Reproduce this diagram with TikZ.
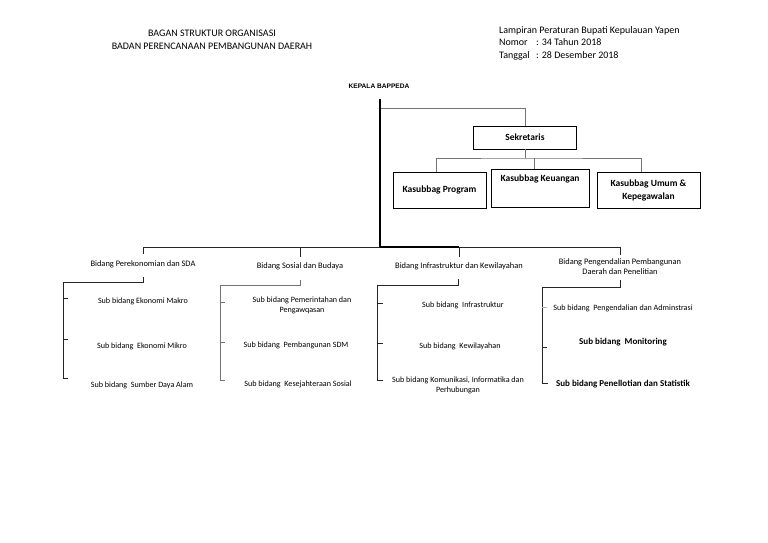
\documentclass[tikz,border=0pt]{standalone}
\usepackage{fontspec}
\setmainfont{Carlito}
\newfontfamily\arialfont{Liberation Sans}
\begin{document}
\begin{tikzpicture}[x=1pt,y=-1pt,
  hdr/.style={font=\fontsize{10}{12}\selectfont, inner sep=0pt},
  kep/.style={font=\arialfont\bfseries\fontsize{6.6}{8}\selectfont, inner sep=0pt},
  bid/.style={font=\fontsize{8.4}{9.5}\selectfont, inner sep=0pt, align=center},
  sub/.style={font=\fontsize{8.1}{10}\selectfont, inner sep=0pt, align=center},
  subbig/.style={font=\bfseries\fontsize{9}{11}\selectfont, inner sep=0pt},
  orgbox/.style={draw, line width=0.8pt, font=\bfseries\fontsize{9.5}{13}\selectfont, align=center, inner sep=0pt},
  ln/.style={line width=0.7pt, black!85},
  grayln/.style={line width=0.7pt, black!55},
  thickln/.style={line width=2pt, black}]
\useasboundingbox[fill=white] (0,0) rectangle (768,543);

% header
\node[hdr, anchor=base] (h1) at (212,36.5) {BAGAN STRUKTUR ORGANISASI};
\node[hdr, anchor=base] (h2) at (212,49.5) {BADAN PERENCANAAN PEMBANGUNAN DAERAH};
\node[hdr, anchor=base west] (r1) at (499,33.5) {Lampiran Peraturan Bupati Kepulauan Yapen};
\node[hdr, anchor=base west] (r2) at (499,46) {Nomor};
\node[hdr, anchor=base west] (r2v) at (536,46) {: 34 Tahun 2018};
\node[hdr, anchor=base west] (r3) at (499,58.5) {Tanggal};
\node[hdr, anchor=base west] (r3v) at (536,58.5) {: 28 Desember 2018};

% head
\node[kep] (kepala) at (379,86) {KEPALA BAPPEDA};
\coordinate (top) at (380,99);
\coordinate (hub) at (380,247);
\coordinate (j1) at (380,108);

% secretariat
\node[orgbox, minimum width=103, minimum height=23] (sek) at (525,137.5) {Sekretaris};
\node[orgbox, minimum width=93, minimum height=36] (prog) at (439.5,190) {Kasubbag Program};
\node[orgbox, minimum width=98, minimum height=38,
  label={[font=\bfseries\fontsize{9.5}{13}\selectfont, anchor=north, inner sep=0pt, yshift=-6pt]north:Kasubbag Keuangan}] (keu) at (540,188) {};
\node[orgbox, minimum width=103, minimum height=36] (umum) at (648.5,190) {Kasubbag Umum \&\\Kepegawalan};
\coordinate (j2) at (525,158);

\draw[grayln] (j1) -| (sek.north);
\draw[grayln] (sek.south) -- (j2);
\draw[grayln] ([xshift=-3pt]prog.north) |- (j2) -| ([xshift=-7pt]umum.north);
\draw[grayln] ([xshift=-6pt]keu.north) -- ([xshift=-6pt]keu.north |- j2);

% bidang labels
\node[bid, inner ysep=6pt] (b1) at (143,264) {Bidang Perekonomian dan SDA};
\node[bid, inner ysep=5pt] (b2) at (300,266) {Bidang Sosial dan Budaya};
\node[bid, inner ysep=5pt] (b3) at (459,266) {Bidang Infrastruktur dan Kewilayahan};
\node[bid, inner ysep=4pt] (b4) at (620,266.5) {Bidang Pengendalian Pembangunan\\Daerah dan Penelitian};

\draw[ln] (b1.north |- hub) -- (b4.north |- hub);
\foreach \b in {b1,b2,b3,b4} \draw[ln] (\b.north |- hub) -- (\b.north);
\draw[line width=1.5pt] (hub) -- (b3.north |- hub);
\draw[thickln] (top) -- (hub);

% sub bidang texts
\node[sub] (m11) at (143,301) {Sub bidang Ekonomi Makro};
\node[sub] (m12) at (142,346) {Sub bidang\ \ Ekonomi Mikro};
\node[sub] (m13) at (142,385) {Sub bidang\ \ Sumber Daya Alam};
\node[sub] (m21) at (302,305) {Sub bidang Pemerintahan dan\\Pengawqasan};
\node[sub] (m22) at (296,345) {Sub bidang\ \ Pembangunan SDM};
\node[sub] (m23) at (298,384) {Sub bidang\ \ Kesejahteraan Sosial};
\node[sub] (m31) at (463,305) {Sub bidang\ \ Infrastruktur};
\node[sub] (m32) at (460,346) {Sub bidang\ \ Kewilayahan};
\node[sub] (m33) at (458,385) {Sub bidang Komunikasi, Informatika dan\\Perhubungan};
\node[sub] (m41) at (623,308) {Sub bidang\ \ Pengendalian dan Adminstrasi};
\node[subbig] (m42) at (623,342) {Sub bidang\ \ Monitoring};
\node[subbig] (m43) at (623,384) {Sub bidang Penellotian dan Statistik};

% sub structures
\coordinate (s1) at (143,277); \coordinate (k1) at (143,282); \coordinate (sp1) at (63,282);
\coordinate (s2) at (300,280); \coordinate (k2) at (300,285); \coordinate (sp2) at (220,285);
\coordinate (s3) at (458,279); \coordinate (k3) at (458,285); \coordinate (sp3) at (377,285);
\coordinate (s4) at (620,280); \coordinate (k4) at (620,287); \coordinate (sp4) at (542,287);

\draw[ln] (s1) -- (k1) -- (sp1) -- (63,378) -- ++(5,0);
\draw[ln] (63,298) -- ++(5,0);
\draw[ln] (63,339) -- ++(5,0);

\draw[grayln] (s2) -- (k2) -- (sp2) -- (220,380) -- ++(5,0);
\draw[grayln] (220,302) -- ++(5,0);
\draw[grayln] (220,342) -- ++(5,0);

\draw[ln] (s3) -- (k3) -- (sp3) -- (377,380) -- ++(6,0);
\draw[ln] (377,303) -- ++(6,0);
\draw[ln] (377,343) -- ++(6,0);

\draw[ln] (s4) -- (k4) -- (sp4) -- (542,383) -- ++(6,0);
\draw[grayln, black!30] (542,307) -- ++(5,0);
\draw[ln] (542,347) -- ++(5,0);
\end{tikzpicture}
\end{document}
